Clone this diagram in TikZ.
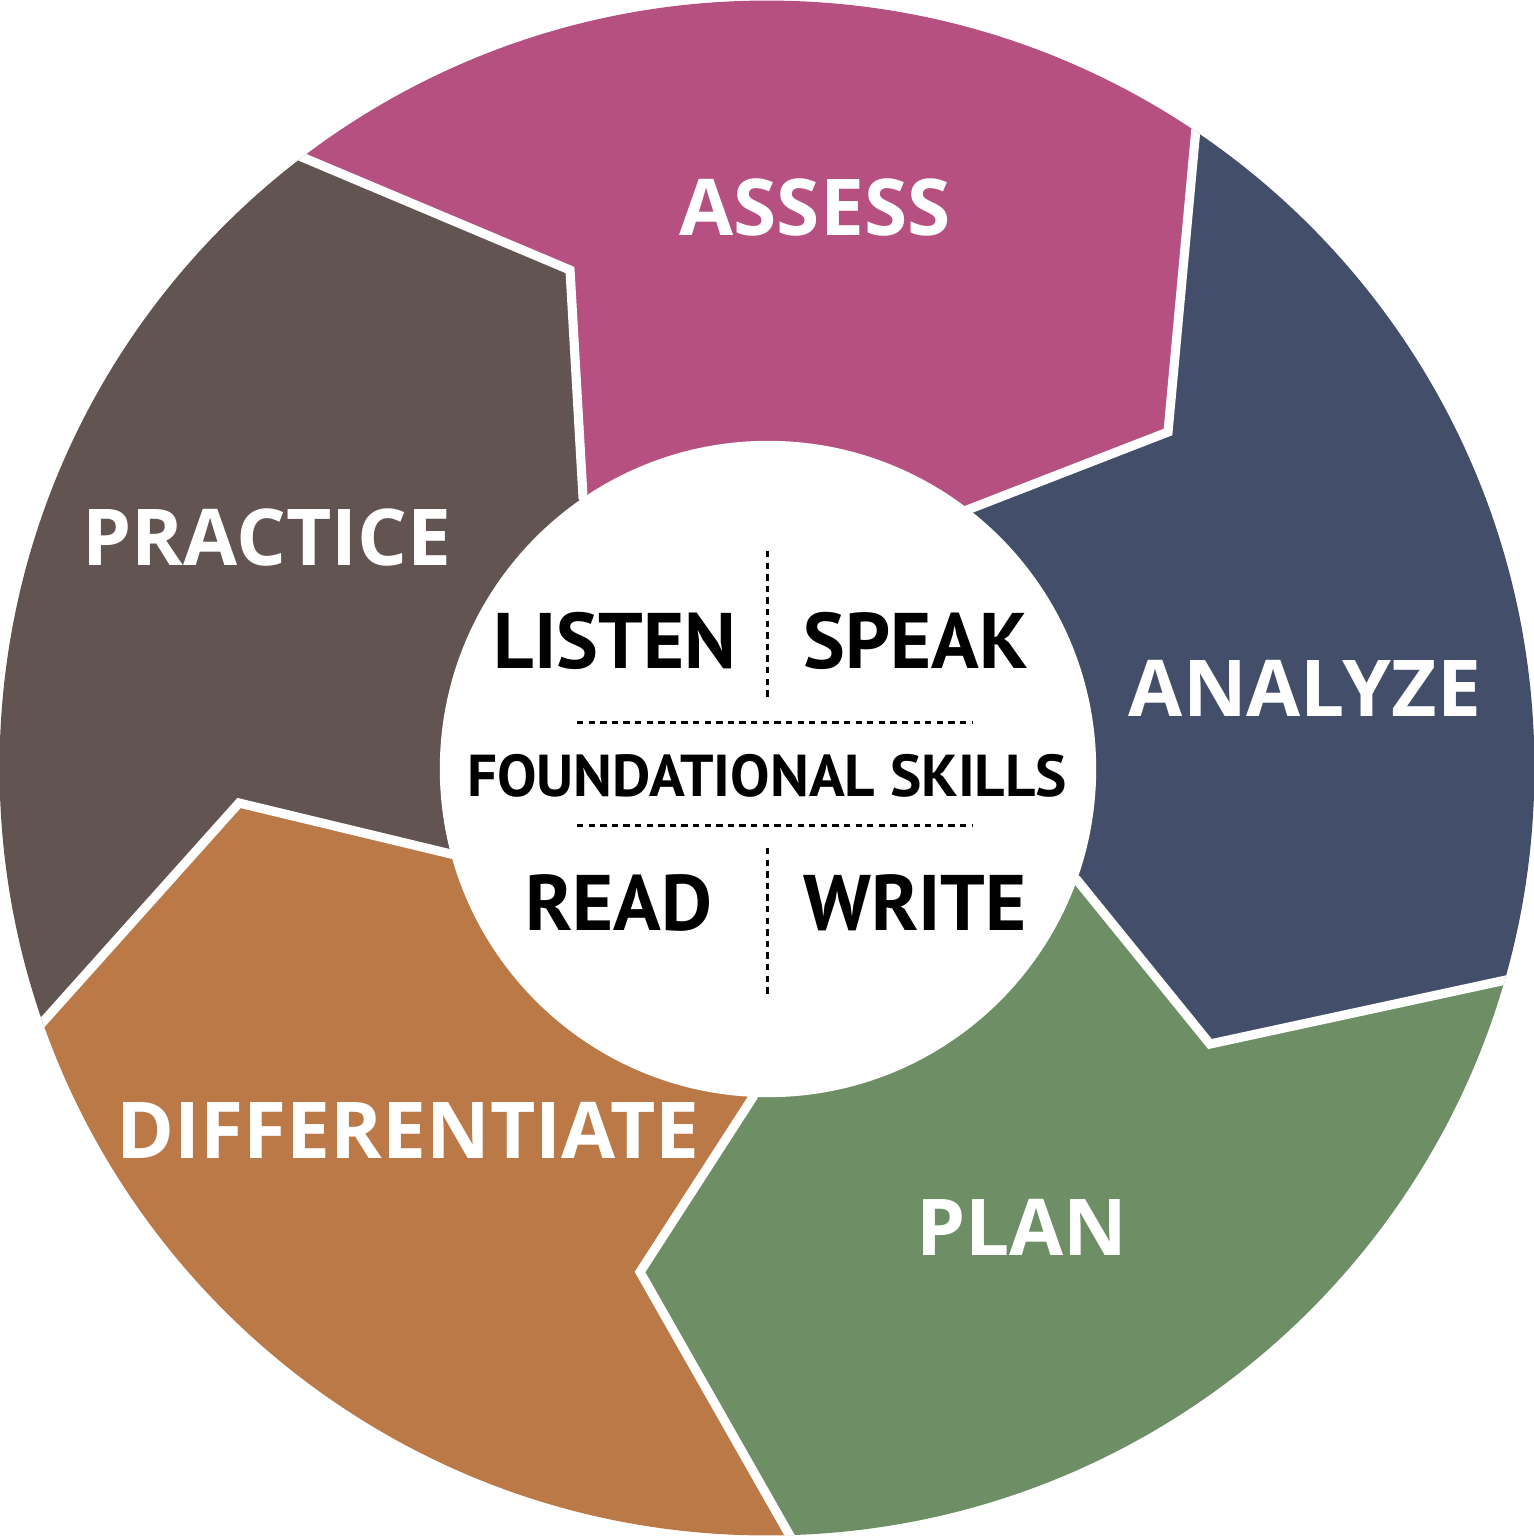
\documentclass[tikz,border=0pt]{standalone}
\usepackage{fontspec}
\setmainfont{Open Sans}
\newfontfamily\skillfont{PT Sans}
\definecolor{assesscol}{HTML}{B55080}
\definecolor{analyzecol}{HTML}{434F6A}
\definecolor{plancol}{HTML}{6E8F66}
\definecolor{diffcol}{HTML}{BB7947}
\definecolor{practicecol}{HTML}{625450}
\begin{document}
\begin{tikzpicture}[x=0.01cm,y=-0.01cm,
  stage/.style={text=white,inner sep=0pt,
    font=\bfseries\fontsize{22.3}{25}\selectfont},
  skill/.style={text=black,inner sep=0pt,
    font=\skillfont\bfseries\fontsize{22.4}{25}\selectfont},
  divider/.style={draw=white,line width=2.6pt,line join=miter},
  dots/.style={line width=0.85pt,dash pattern=on 1.8pt off 1.5pt}]
  \useasboundingbox (0,0) rectangle (1534,1536);
  % centre, inner ends, corners and far ends of the five borders
  \coordinate (c) at (767,768);
  \coordinate (i1) at (583,497);
  \coordinate (k1) at (570,270);
  \coordinate (e1) at (-249,-75);
  \coordinate (i2) at (967,510);
  \coordinate (k2) at (1168,432);
  \coordinate (e2) at (1252,-480);
  \coordinate (i3) at (1077,880);
  \coordinate (k3) at (1210,1044);
  \coordinate (e3) at (2098,852);
  \coordinate (i4) at (753,1097);
  \coordinate (k4) at (640,1272);
  \coordinate (e4) at (1090,2064);
  \coordinate (i5) at (451,854);
  \coordinate (k5) at (239,803);
  \coordinate (e5) at (-352,1463);
  \begin{scope}
    \clip (c) circle[radius=7.67cm];
    \fill[assesscol]
      (c) -- (i1) -- (k1) -- (e1) -- (e2) -- (k2) -- (i2) -- cycle;
    \fill[analyzecol]
      (c) -- (i2) -- (k2) -- (e2) -- (e3) -- (k3) -- (i3) -- cycle;
    \fill[plancol]
      (c) -- (i3) -- (k3) -- (e3) -- (e4) -- (k4) -- (i4) -- cycle;
    \fill[diffcol]
      (c) -- (i4) -- (k4) -- (e4) -- (e5) -- (k5) -- (i5) -- cycle;
    \fill[practicecol]
      (c) -- (i5) -- (k5) -- (e5) -- (e1) -- (k1) -- (i1) -- cycle;
    \foreach \n in {1,...,5}
      \draw[divider] (c) -- (i\n) -- (k\n) -- (e\n);
  \end{scope}
  \node[circle,fill=white,inner sep=0pt,minimum size=6.56cm] (core) at (768,769) {};
  % stage labels
  \node[stage] (assess) at (815,207) {ASSESS};
  \node[stage] (analyze) at (1305,688) {ANALYZE};
  \node[stage] (plan) at (1022,1227) {PLAN};
  \node[stage] (differentiate) at (408,1130) {DIFFERENTIATE};
  \node[stage] (practice) at (267,537) {PRACTICE};
  % skills in the middle
  \node[skill] (listen) at (615,641) {LISTEN};
  \node[skill] (speak) at (916,641) {SPEAK};
  \node[skill] (read) at (619,903) {READ};
  \node[skill] (write) at (915,903) {WRITE};
  \node[skill,font=\skillfont\bfseries\fontsize{16.8}{19}\selectfont]
    (found) at (767,776) {FOUNDATIONAL SKILLS};
  \coordinate (vt1) at (767,551);
  \coordinate (vt2) at (767,698);
  \coordinate (vb1) at (767,848);
  \coordinate (vb2) at (767,995);
  \coordinate (ht1) at (577,722);
  \coordinate (ht2) at (972,722);
  \coordinate (hb1) at (577,825);
  \coordinate (hb2) at (972,825);
  \draw[dots] (vt1) -- (vt2);
  \draw[dots] (vb1) -- (vb2);
  \draw[dots] (ht1) -- (ht2);
  \draw[dots] (hb1) -- (hb2);
\end{tikzpicture}
\end{document}
